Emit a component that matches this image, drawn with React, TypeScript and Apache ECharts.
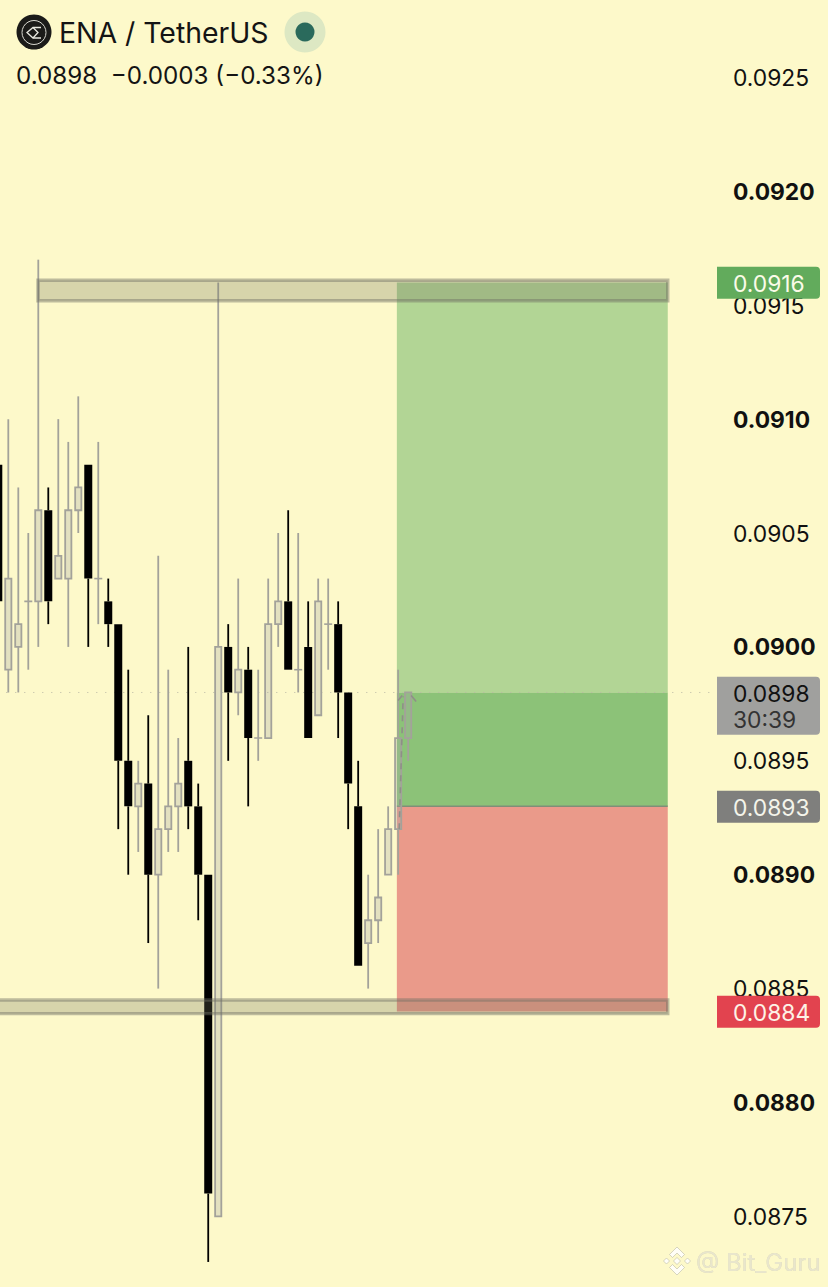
import React, { useEffect, useRef } from "react";
import * as echarts from "echarts";

// Candles, oldest first
const opens = [0.0908,0.0899,0.0900,0.0902,0.0902,0.0906,0.0903,0.0903,0.0906,0.0908,0.0903,0.0902,0.0901,0.0895,0.0893,0.0894,0.0890,0.0892,0.0893,0.0895,0.0893,0.0890,0.0875,0.0900,0.0898,0.0899,0.0896,0.0896,0.0901,0.0902,0.0899,0.0900,0.0897,0.0901,0.0901,0.0898,0.0893,0.0887,0.0888,0.0890,0.0892,0.0896];
const closes = [0.0902,0.0903,0.0901,0.0902,0.0906,0.0902,0.0904,0.0906,0.0907,0.0903,0.0903,0.0901,0.0895,0.0893,0.0894,0.0890,0.0892,0.0893,0.0894,0.0893,0.0890,0.0876,0.0900,0.0898,0.0899,0.0896,0.0896,0.0901,0.0902,0.0899,0.0899,0.0896,0.0902,0.0901,0.0898,0.0894,0.0886,0.0888,0.0889,0.0892,0.0896,0.0898];
const highs = [0.0908,0.0910,0.0907,0.0905,0.0917,0.0907,0.0910,0.0909,0.0911,0.0908,0.0909,0.0903,0.0901,0.0899,0.0895,0.0897,0.0904,0.0899,0.0896,0.0900,0.0894,0.0890,0.0916,0.0901,0.0903,0.0900,0.0899,0.0903,0.0905,0.0906,0.0905,0.0902,0.0903,0.0903,0.0902,0.0898,0.0895,0.0890,0.0892,0.0893,0.0899,0.0898];
const lows = [0.0902,0.0898,0.0898,0.0899,0.0900,0.0901,0.0903,0.0900,0.0905,0.0900,0.0901,0.0900,0.0892,0.0890,0.0891,0.0887,0.0885,0.0891,0.0891,0.0892,0.0888,0.0873,0.0875,0.0895,0.0897,0.0893,0.0895,0.0896,0.0900,0.0899,0.0898,0.0896,0.0897,0.0899,0.0896,0.0892,0.0886,0.0885,0.0887,0.0890,0.0890,0.0895];

// Axis labels
const axisTicks = [0.0925,0.092,0.0915,0.091,0.0905,0.09,0.0895,0.089,0.0885,0.088,0.0875];

// Position tool and level zones: [x from, x to, price top, price bottom]
const profitZone = [39.87, 66.97, 0.0916, 0.0898];
const activeZone = [39.87, 66.97, 0.0898, 0.0893];
const lossZone = [39.87, 66.97, 0.0893, 0.0884];
const upperLevel = [3.97, 66.97, 0.09161, 0.09152];
const lowerLevel = [-2, 66.97, 0.08845, 0.08839];
const lastPrice = 0.0898;
const entryPrice = 0.0893;
const arrowFrom = [40.1, 0.0892];
const arrowTo = [40.9, 0.0898];

// Price tags on the scale
const tagPrices = [0.0916, 0.0898, 0.0893, 0.0884];
const tagTexts = ["0.0916", "0.0898", "0.0893", "0.0884"];
const tagColors = ["#62ab5c", "#a0a09e", "#7f7f7d", "#e2434f"];
const tagTextColors = ["#fbfbe8", "#111111", "#f4f4ea", "#fdf3e6"];
const timerText = "30:39";

const FONT = "Inter";
const BG = "#fdf9ca";
const WICK_GREY = "#a3a29a";

const candleSeries = {
  type: "custom",
  silent: true,
  clip: false,
  z: 4,
  data: opens.map((o, i) => [i, o, closes[i], lows[i], highs[i]]),
  encode: { x: 0, y: [1, 2, 3, 4] },
  renderItem: (_: any, api: any) => {
    const i = api.value(0);
    const o = api.value(1), c = api.value(2), l = api.value(3), h = api.value(4);
    const bear = o > c;
    const x = api.coord([i, o])[0];
    const top = api.coord([i, Math.max(o, c)])[1];
    const bot = api.coord([i, Math.min(o, c)])[1];
    const hi = api.coord([i, h])[1];
    const lo = api.coord([i, l])[1];
    const col = bear ? "#000000" : WICK_GREY;
    const wickW = 1.8;
    const children: any[] = [];
    if (hi < top) children.push({ type: "rect", shape: { x: x - wickW / 2, y: hi, width: wickW, height: top - hi }, style: { fill: col } });
    if (lo > bot) children.push({ type: "rect", shape: { x: x - wickW / 2, y: bot, width: wickW, height: lo - bot }, style: { fill: col } });
    if (o === c) {
      children.push({ type: "rect", shape: { x: x - 4, y: top - 0.8, width: 8, height: 1.6 }, style: { fill: col } });
    } else if (bear) {
      children.push({ type: "rect", shape: { x: x - 4, y: top, width: 8, height: bot - top }, style: { fill: "#000000" } });
    } else {
      children.push({ type: "rect", shape: { x: x - 3.1, y: top, width: 6.2, height: bot - top }, style: { fill: "rgba(170,170,170,0.3)", stroke: WICK_GREY, lineWidth: 1.8 } });
    }
    return { type: "group", children };
  },
};

const zoneSeries = (name: string, zone: number[], style: any, z: number) => ({
  type: "custom",
  name,
  silent: true,
  clip: false,
  z,
  data: [zone],
  encode: { x: [0, 1], y: [2, 3] },
  renderItem: (_: any, api: any) => {
    const a = api.coord([api.value(0), api.value(2)]);
    const b = api.coord([api.value(1), api.value(3)]);
    return { type: "rect", shape: { x: a[0], y: a[1], width: b[0] - a[0], height: b[1] - a[1] }, style };
  },
});

const levelLine = (price: number, from: number, to: number, style: any) => ({
  type: "custom",
  silent: true,
  clip: false,
  z: 3,
  data: [[from, to, price]],
  encode: { x: [0, 1], y: 2 },
  renderItem: (_: any, api: any) => {
    const a = api.coord([api.value(0), api.value(2)]);
    const b = api.coord([api.value(1), api.value(2)]);
    return { type: "line", shape: { x1: a[0], y1: a[1], x2: b[0], y2: b[1] }, style };
  },
});

const arrowSeries = {
  type: "custom",
  silent: true,
  clip: false,
  z: 5,
  data: [[arrowFrom[0], arrowFrom[1], arrowTo[0], arrowTo[1]]],
  encode: { x: [0, 2], y: [1, 3] },
  renderItem: (_: any, api: any) => {
    const a = api.coord([api.value(0), api.value(1)]);
    const b = api.coord([api.value(2), api.value(3)]);
    const stroke = "#8f8f88";
    return {
      type: "group",
      children: [
        { type: "line", shape: { x1: a[0], y1: a[1], x2: b[0] - 4, y2: b[1] + 4 }, style: { stroke, lineWidth: 1.6, lineDash: [6, 6] } },
        { type: "polyline", shape: { points: [[b[0] - 9, b[1] + 8], [b[0] - 5, b[1] + 3]] }, style: { stroke, lineWidth: 1.6, fill: "none" } },
        { type: "polyline", shape: { points: [[b[0] + 4, b[1] + 3], [b[0] + 9, b[1] + 9]] }, style: { stroke, lineWidth: 1.6, fill: "none" } },
      ],
    };
  },
};

const tagSeries = {
  type: "custom",
  silent: true,
  clip: false,
  z: 10,
  data: tagPrices.map((p, i) => [i, p]),
  encode: { y: 1 },
  renderItem: (_: any, api: any) => {
    const i = api.value(0);
    const y = api.coord([0, api.value(1)])[1];
    const isLast = tagTexts[i] === "0.0898";
    const h = isLast ? 58 : 32;
    const top = y - 15.6;
    const children: any[] = [
      { type: "rect", shape: { x: 717, y: top, width: 103, height: h, r: [0, 4, 4, 0] }, style: { fill: tagColors[i] } },
      { type: "text", style: { x: 733, y: y + 1, text: tagTexts[i], fill: tagTextColors[i], font: `22.8px ${FONT}`, verticalAlign: "middle", textAlign: "left" } },
    ];
    if (isLast) {
      children.push({ type: "text", style: { x: 733, y: y + 27, text: timerText, fill: "#333333", font: `22.8px ${FONT}`, verticalAlign: "middle", textAlign: "left" } });
    }
    return { type: "group", children };
  },
};

const headerGraphic = [
  { type: "circle", shape: { cx: 34, cy: 32, r: 17.5 }, style: { fill: "#1b1b19" } },
  { type: "circle", shape: { cx: 34, cy: 32.5, r: 12 }, style: { fill: "none", stroke: "#d8d8d0", lineWidth: 1 } },
  { type: "polyline", shape: { points: [[41, 27.5], [33, 27.5], [27, 32.5], [33, 38], [41, 38]] }, style: { fill: "none", stroke: "#e8e8e0", lineWidth: 1.3 } },
  { type: "polyline", shape: { points: [[33, 27.5], [38, 32.5], [33, 38]] }, style: { fill: "none", stroke: "#e8e8e0", lineWidth: 1.3 } },
  { type: "text", style: { x: 59, y: 32, text: "ENA / TetherUS", fill: "#141414", font: `28.4px ${FONT}`, verticalAlign: "middle" } },
  { type: "circle", shape: { cx: 305, cy: 32, r: 20.5 }, style: { fill: "#dde8c3" } },
  { type: "circle", shape: { cx: 305, cy: 32, r: 9.5 }, style: { fill: "#2a6a5c" } },
  { type: "text", style: { x: 16, y: 75, text: "0.0898  \u22120.0003 (\u22120.33%)", fill: "#141414", font: `24.2px ${FONT}`, verticalAlign: "middle" } },
];

const WM_STYLE = { fill: "rgba(255,255,255,0.85)", stroke: "rgba(175,175,155,0.5)", lineWidth: 1 };
const diamond = (cx: number, cy: number, r: number) => ({
  type: "polygon",
  shape: { points: [[cx, cy - r], [cx + r, cy], [cx, cy + r], [cx - r, cy]] },
  style: WM_STYLE,
});
const chevron = (cx: number, cy: number, dir: number) => ({
  type: "polygon",
  shape: { points: [[cx, cy], [cx + 7.5, cy + dir * 7.5], [cx + 4.5, cy + dir * 10.5], [cx, cy + dir * 6], [cx - 4.5, cy + dir * 10.5], [cx - 7.5, cy + dir * 7.5]] },
  style: WM_STYLE,
});

const watermarkGraphic = [
  chevron(677, 1247, 1),
  chevron(677, 1275, -1),
  diamond(666.5, 1261, 3),
  diamond(687.5, 1261, 3),
  diamond(677, 1261, 3.5),
  {
    type: "text",
    style: {
      x: 696,
      y: 1262,
      text: "@ Bit_Guru",
      fill: "#e9e6cc",
      font: `24px ${FONT}`,
      verticalAlign: "middle",
      textShadowBlur: 1,
      textShadowColor: "rgba(130,130,110,0.4)",
    },
  },
];

export default function App() {
  const ref = useRef<HTMLDivElement>(null);
  useEffect(() => {
    document.body.style.margin = "0";
    document.documentElement.style.overflow = "hidden";
    const chart = echarts.init(ref.current!, undefined, { renderer: "svg" });
    chart.setOption({
      animation: false,
      backgroundColor: BG,
      grid: { left: 0, top: 0, width: 828, height: 1287 },
      xAxis: { type: "value", min: 0.17, max: 83, show: false, splitLine: { show: false } },
      yAxis: {
        type: "value",
        min: 0.08719,
        max: 0.09284,
        position: "left",
        axisLine: { show: false },
        axisTick: { show: false },
        splitLine: { show: false },
        axisLabel: {
          inside: true,
          margin: 733,
          customValues: axisTicks,
          formatter: (v: number) => {
            const s = v.toFixed(4);
            return s.endsWith("0") ? `{b|${s}}` : `{n|${s}}`;
          },
          rich: {
            b: { fontFamily: FONT, fontSize: 22.8, fontWeight: 700, color: "#111111" },
            n: { fontFamily: FONT, fontSize: 22.8, fontWeight: 400, color: "#111111" },
          },
        },
      },
      series: [
        zoneSeries("profit", profitZone, { fill: "#b2d595" }, 1),
        zoneSeries("active", activeZone, { fill: "#8cc278" }, 1),
        zoneSeries("loss", lossZone, { fill: "#ea9a8a" }, 1),
        levelLine(lastPrice, -1, 71.4, { stroke: "#b9b8a4", lineWidth: 1, lineDash: [1, 8] }),
        levelLine(entryPrice, profitZone[0], profitZone[1], { stroke: "#7f8f78", lineWidth: 1.5 }),
        candleSeries,
        arrowSeries,
        zoneSeries("upper", upperLevel, { fill: "rgba(120,120,95,0.28)", stroke: "rgba(110,110,100,0.45)", lineWidth: 3.4 }, 6),
        zoneSeries("lower", lowerLevel, { fill: "rgba(120,120,95,0.28)", stroke: "rgba(110,110,100,0.45)", lineWidth: 3.4 }, 6),
        tagSeries,
      ],
      graphic: [...headerGraphic, ...watermarkGraphic],
    });
    return () => chart.dispose();
  }, []);
  return <div ref={ref} style={{ position: "absolute", left: 0, top: 0, width: 828, height: 1287 }} />;
}
